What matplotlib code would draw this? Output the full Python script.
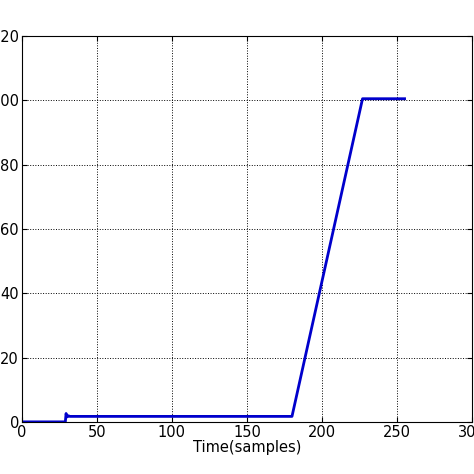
import matplotlib
matplotlib.use("Agg")
import matplotlib.pyplot as plt

# signal trace (samples, value)
t = [0, 29, 29.5, 30, 31, 32, 179, 180, 227, 229, 255]
v = [0, 0, 2.6, 1.5, 1.9, 1.7, 1.7, 1.7, 100.5, 100.5, 100.5]

fig = plt.figure(figsize=(4.74, 4.74), dpi=100)
ax = fig.add_axes([0.046, 0.11, 0.95, 0.814])
ax.plot(t, v, color="#0000cc", lw=2)
ax.set_xlim(0, 300)
ax.set_ylim(0, 120)
ax.set_xticks(range(0, 301, 50))
ax.set_yticks(range(0, 121, 20))
ax.grid(True, color="black", linestyle=":", lw=0.7)
ax.tick_params(direction="in", labelsize=10.5, top=True, right=True, pad=2)
ax.set_xlabel("Time(samples)", fontsize=10.5, labelpad=0)
fig.savefig("out.png", dpi=100)
